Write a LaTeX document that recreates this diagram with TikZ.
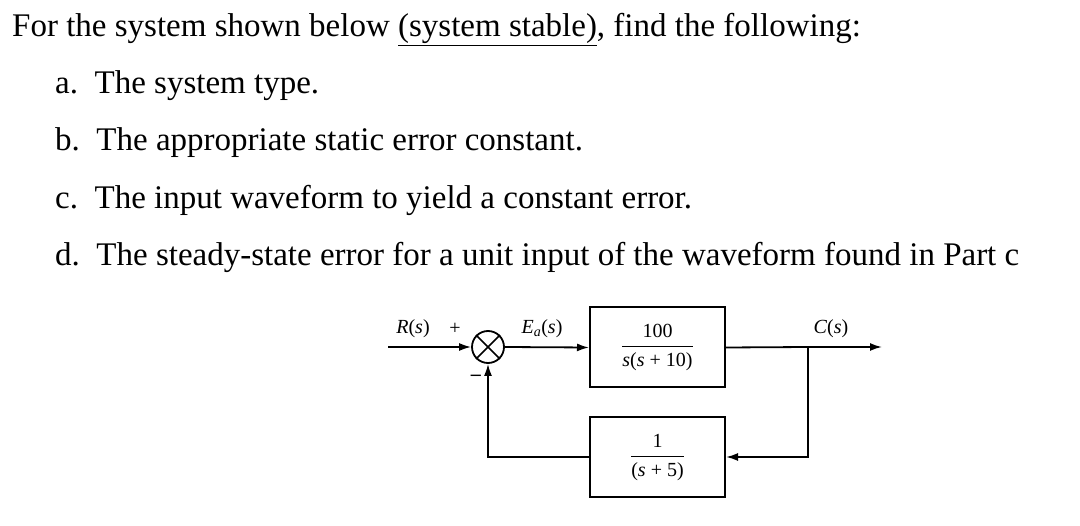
\documentclass[tikz,border=0pt]{standalone}
\usepackage{fontspec}
\setmainfont{Liberation Serif}
\usetikzlibrary{arrows.meta}
\newcommand{\itx}[1]{\textit{#1}}
\begin{document}
\begin{tikzpicture}[x=1pt,y=-1pt,
  txt/.style={anchor=base west,inner sep=0pt,font=\fontsize{33}{35}\selectfont},
  lbl/.style={inner sep=0pt,font=\fontsize{20}{22}\selectfont},
  blk/.style={draw,line width=2pt,minimum width=135pt,minimum height=80pt,inner sep=0pt,font=\fontsize{20}{24}\selectfont},
  sig/.style={line width=1.8pt},
  arr/.style={sig,-{Latex[length=12pt,width=8pt]}}]
\useasboundingbox (0,0) rectangle (1080,526);
\node[txt] (t0) at (12,37) {For the system shown below \underline{(system stable)}, find the following:};
\node[txt] (ta) at (55,94) {a.\ \ The system type.};
\node[txt] (tb) at (55,151) {b.\ \ The appropriate static error constant.};
\node[txt] (tc) at (55,209) {c.\ \ The input waveform to yield a constant error.};
\node[txt] (td) at (55,266) {d.\ \ The steady-state error for a unit input of the waveform found in Part c};
% diagram
\coordinate (in) at (388,347);
\node[draw,circle,line width=1.8pt,minimum size=32pt,inner sep=0pt] (sum) at (488,347) {};
\draw[line width=1.6pt] (sum.north west)--(sum.south east) (sum.north east)--(sum.south west);
\node[blk] (G) at (657.5,347.5) {\begin{tabular}{@{}c@{}}100\\[1pt]\hline\rule{0pt}{20pt}\itx{s}(\itx{s} + 10)\end{tabular}};
\node[blk] (H) at (657.5,457) {\begin{tabular}{@{}c@{}}1\\[1pt]\hline\rule{0pt}{20pt}(\itx{s} + 5)\end{tabular}};
\coordinate (br) at (808,347);
\coordinate (out) at (882,347);
\draw[arr] (in) -- (sum.west);
\draw[arr] (sum.east) -- (G.west);
\draw[sig] (G.east) -- (br);
\draw[arr] (br) -- (out);
\draw[arr] (br) |- (H.east);
\draw[arr] (H.west) -| (sum.south);
\node[lbl] (lr) at (413,329) {\itx{R}(\itx{s})};
\node[lbl] (lp) at (455,329) {+};
\node[lbl] (lm) at (476,378) {\textbf{–}};
\node[lbl] (le) at (542,329) {\itx{E}\textsubscript{\itx{a}}(\itx{s})};
\node[lbl] (lc) at (831,329) {\itx{C}(\itx{s})};
\end{tikzpicture}
\end{document}
